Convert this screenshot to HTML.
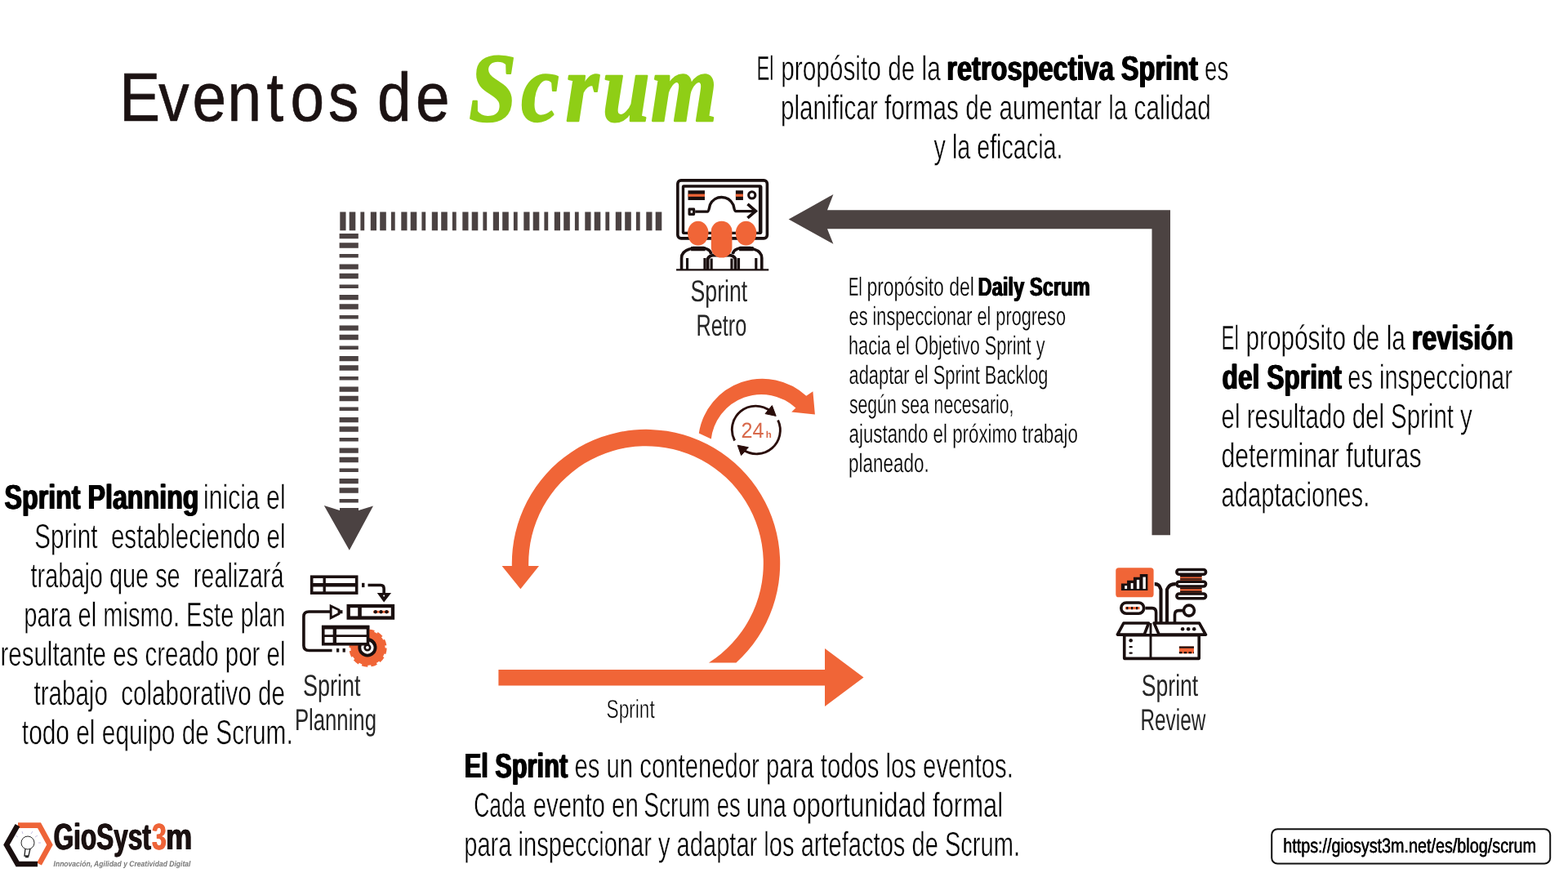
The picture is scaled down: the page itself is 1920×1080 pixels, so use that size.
<!DOCTYPE html>
<html lang="es">
<head>
<meta charset="utf-8">
<title>Eventos de Scrum</title>
<style>
html,body{margin:0;padding:0;background:#fff;}
body{width:1920px;height:1080px;overflow:hidden;position:relative;}
svg{position:absolute;left:0;top:0;display:block;will-change:transform;}
text{text-rendering:geometricPrecision;}
.lbl{filter:blur(0.6px);}
</style>
</head>
<body>
<svg width="1920" height="1080" viewBox="0 0 1920 1080">
<rect width="1920" height="1080" fill="#ffffff"/>
<!-- ===== connector arrows ===== -->
<g id="arrows">
  <!-- dashed elbow (retro -> planning) -->
  <line x1="416.3" y1="270.8" x2="811" y2="270.8" stroke="#4b4242" stroke-width="22.8" stroke-dasharray="7.2 4.2 7.6 6.1 4.8 7.6"/>
  <line x1="427.2" y1="285.9" x2="427.2" y2="617" stroke="#4b4242" stroke-width="23.2" stroke-dasharray="6.3 5 6.5 7.4 4.4 7.9"/>
  <polygon points="396.8,619 416,625 416,622 439,622 439,625 457,619.5 427.8,673.7" fill="#4b4242"/>
  <!-- solid elbow (review -> retro) -->
  <polygon points="965.7,268.6 1020.4,238 1013,257.2 1433,257.2 1433,655.3 1410.5,655.3 1410.5,280.2 1013,280.2 1020.4,298.7" fill="#4c4342"/>
</g>

<!-- ===== sprint loop ===== -->
<g id="sprint" fill="#f06537">
  <path d="M626.83 693 A164.2 164.2 0 1 1 901.45 811.5 L867.9 811.5 A143.8 143.8 0 1 0 647.23 693 Z"/>
  <polygon points="614.6,693 660,693 637.4,721.2"/>
  <polygon points="610.4,820 1010,820 1010,794 1057.5,829.4 1010,865 1010,839.6 610.4,839.6"/>
  <!-- daily scrum arc -->
  <path d="M855.8 530.4 A78.8 78.8 0 0 1 987.3 484.8 L995.4 479.2 L997.9 507.6 L969.2 504.6 L974.4 499.4 A62 62 0 0 0 870.8 537.5 Z"/>
</g>

<!-- ===== 24h badge ===== -->
<g id="badge24" fill="none" stroke="#2a0d0a" stroke-width="2.9" stroke-linecap="butt">
  <path d="M899.6 539.5 A29 29 0 0 1 943.5 503.5"/>
  <path d="M952.6 514.5 A29 29 0 0 1 910 550.8"/>
  <polygon points="945.4,496.6 950.2,509.4 937,506.6" fill="#2a0d0a" stroke-width="1" stroke-linejoin="round"/>
  <polygon points="903.2,545.2 916.4,547.8 907.6,557.6" fill="#2a0d0a" stroke-width="1" stroke-linejoin="round"/>
</g>
<text transform="translate(907.6,535.8) scale(0.95,1)" style='font-family:"Liberation Sans", sans-serif;font-size:26.5px' fill="#d8694b">24</text>
<text transform="translate(937.8,535.8)" style='font-family:"Liberation Sans", sans-serif;font-size:11.5px;font-weight:bold' fill="#d8694b">h</text>

<!-- ===== Sprint Retro icon ===== -->
<g id="ico-retro" transform="translate(810,210) scale(0.12038)" fill="none" stroke="#1a0f0f" stroke-width="30" stroke-linejoin="round">
  <rect x="165" y="90" width="910" height="590" rx="34"/>
  <rect x="220" y="150" width="790" height="476" rx="6" stroke-width="28"/>
  <path d="M1006 150 V626" stroke-width="36"/>
  <rect x="270" y="193" width="170" height="98" fill="#1a0f0f" stroke="none"/>
  <rect x="270" y="229" width="170" height="27" fill="#f06537" stroke="none"/>
  <rect x="755" y="193" width="75" height="98" fill="#1a0f0f" stroke="none"/>
  <rect x="755" y="229" width="75" height="27" fill="#f06537" stroke="none"/>
  <circle cx="920" cy="240" r="34" stroke-width="26"/>
  <rect x="283" y="383" width="46" height="52" stroke-width="26"/>
  <path d="M342 408 H466 C482 408 484 372 494 338 C518 284 568 262 610 262 C652 262 702 284 730 338 C740 372 740 404 756 404 H945" stroke-width="28"/>
  <path d="M876 332 L958 402 L876 472" stroke-linejoin="miter" stroke-width="30"/>
  <!-- bodies -->
  <path d="M204 1000 V880 Q204 815 285 790 L320 778 H430 L465 790 Q500 805 505 840"/>
  <path d="M300 786 H445" stroke-width="44"/>
  <path d="M262 1000 V880 M440 1000 V880" stroke-width="26"/>
  <path d="M1020 1000 V880 Q1020 815 940 790 L905 778 H800 L765 790 Q730 805 725 840"/>
  <path d="M790 786 H935" stroke-width="44"/>
  <path d="M962 1000 V880 M785 1000 V880" stroke-width="26"/>
  <path d="M470 1000 V900 Q470 862 520 852 H700 Q752 862 752 900 V1000" stroke-width="32"/>
  <path d="M508 1000 V885 M714 1000 V885" stroke-width="26"/>
  <path d="M150 1000 H1090" stroke-width="20"/>
  <!-- heads -->
  <ellipse cx="372" cy="628" rx="106" ry="124" fill="#f06537" stroke="none"/>
  <ellipse cx="860" cy="628" rx="106" ry="124" fill="#f06537" stroke="none"/>
  <rect x="505" y="505" width="213" height="372" rx="104" fill="#f06537" stroke="none"/>
</g>

<!-- ===== Sprint Planning icon ===== -->
<g id="ico-plan" transform="translate(350,690) scale(0.12038)" fill="none" stroke="#1a0f0f" stroke-width="30" stroke-linejoin="miter">
  <!-- gear -->
  <circle cx="835" cy="860" r="176" fill="#f06537" stroke="none"/>
  <circle cx="835" cy="860" r="180" stroke="#f06537" stroke-width="24" stroke-dasharray="60 34.25"/>
  <circle cx="830" cy="855" r="80" fill="#fff" stroke-width="32"/>
  <circle cx="830" cy="855" r="27" fill="#fff" stroke-width="22"/>
  <!-- top table -->
  <rect x="263" y="135" width="457" height="165" fill="#fff" stroke-width="30"/>
  <path d="M263 218 H720" stroke-width="36"/>
  <path d="M392 135 V300" stroke-width="28"/>
  <rect x="773" y="198" width="28" height="44" fill="#1a0f0f" stroke="none"/>
  <path d="M835 220 H965 Q998 220 998 255 V305"/>
  <polygon points="940,305 1060,305 998,385" fill="#1a0f0f" stroke-width="12"/>
  <circle cx="998" cy="328" r="9" fill="#fff" stroke="none"/>
  <!-- middle box -->
  <rect x="637" y="432" width="451" height="121" fill="#fff" stroke-width="36"/>
  <path d="M752 432 V553" stroke-width="38"/>
  <rect x="890" y="480" width="160" height="24" fill="#f06537" stroke="none"/>
  <circle cx="912" cy="492" r="18" fill="#1a0f0f" stroke="none"/>
  <circle cx="968" cy="492" r="18" fill="#1a0f0f" stroke="none"/>
  <circle cx="1025" cy="492" r="18" fill="#1a0f0f" stroke="none"/>
  <!-- loop arrow -->
  <path d="M455 490 H235 Q182 490 182 540 V835 Q182 885 235 885 H470" stroke-linejoin="round"/>
  <polygon points="458,432 458,553 540,512 540,472" fill="#fff" stroke-width="24"/>
  <path d="M540 492 H577" stroke-width="34"/>
  <rect x="515" y="864" width="27" height="38" fill="#1a0f0f" stroke="none"/>
  <rect x="578" y="864" width="27" height="38" fill="#1a0f0f" stroke="none"/>
  <!-- bottom table -->
  <rect x="380" y="645" width="455" height="175" fill="#fff" stroke-width="30"/>
  <path d="M365 649 H850" stroke-width="38"/>
  <path d="M380 736 H835" stroke-width="24"/>
  <path d="M497 645 V820" stroke-width="36"/>
  <path d="M830 775 A80 80 0 0 1 905 830" stroke-width="32"/>
</g>

<!-- ===== Sprint Review icon ===== -->
<g id="ico-review" transform="translate(1350,685) scale(0.12038)" fill="none" stroke="#1a0f0f" stroke-width="30" stroke-linejoin="round">
  <rect x="135" y="85" width="385" height="300" rx="30" fill="#f06537" stroke="none"/>
  <polygon points="190,316 190,245 250,245 250,213 315,213 315,180 380,180 380,150 460,150 460,316" fill="#1a0f0f" stroke="none"/>
  <rect x="226" y="267" width="24" height="33" fill="#fff" stroke="none"/>
  <rect x="288" y="241" width="24" height="59" fill="#fff" stroke="none"/>
  <rect x="348" y="207" width="27" height="93" fill="#fff" stroke="none"/>
  <rect x="411" y="179" width="28" height="121" fill="#fff" stroke="none"/>
  <!-- stack -->
  <rect x="790" y="150" width="220" height="200" fill="#f06537" stroke="none"/>
  <path d="M790 172 H1010 M790 200 H1010 M790 296 H1010 M790 326 H1010" stroke-width="12"/>
  <rect x="755" y="104" width="296" height="48" rx="24" fill="#fff"/>
  <rect x="755" y="226" width="296" height="48" rx="24" fill="#fff"/>
  <rect x="755" y="349" width="296" height="48" rx="24" fill="#fff"/>
  <!-- cables -->
  <path d="M530 250 Q575 250 585 285 L594 305 V640" stroke-width="34"/>
  <path d="M745 250 Q685 250 668 285 L656 305 V640" stroke-width="34"/>
  <rect x="190" y="440" width="230" height="110" rx="52" fill="#fff"/>
  <rect x="232" y="482" width="146" height="26" fill="#f06537" stroke="none"/>
  <path d="M252 482 V508 M300 482 V508 M350 482 V508" stroke-width="18"/>
  <path d="M435 495 H505 Q545 495 545 540 V640"/>
  <circle cx="880" cy="520" r="54" fill="#fff"/>
  <path d="M825 520 H775 Q735 520 735 560 V640"/>
  <!-- box -->
  <rect x="222" y="770" width="760" height="238" fill="#fff"/>
  <polygon points="215,648 470,648 425,765 152,765" fill="#fff"/>
  <polygon points="525,648 985,648 1050,765 575,765" fill="#fff"/>
  <path d="M490 648 V1008" stroke-width="24"/>
  <circle cx="815" cy="708" r="19" fill="#1a0f0f" stroke="none"/>
  <circle cx="873" cy="708" r="19" fill="#1a0f0f" stroke="none"/>
  <circle cx="932" cy="708" r="19" fill="#1a0f0f" stroke="none"/>
  <circle cx="288" cy="825" r="19" fill="#1a0f0f" stroke="none"/>
  <rect x="270" y="880" width="36" height="20" rx="9" fill="#1a0f0f" stroke="none"/>
  <rect x="270" y="942" width="36" height="20" rx="9" fill="#1a0f0f" stroke="none"/>
  <rect x="780" y="885" width="150" height="72" fill="#f06537" stroke="none"/>
  <rect x="780" y="885" width="150" height="18" fill="#1a0f0f" stroke="none"/>
  <path d="M780 948 H930" stroke-width="20" stroke-dasharray="30 18"/>
</g>

<!-- ===== logo mark ===== -->
<g id="logo" fill="none" stroke-width="6.6" stroke-linejoin="miter">
  <path d="M22 1010.6 H48 L61 1034.4 L48 1058" stroke="#ee6438"/>
  <path d="M46 1058 H21.5 L8 1034.4 L21.5 1010.6" stroke="#1a0f0f"/>
  <circle cx="34" cy="1032" r="8" stroke="#2a2a2a" stroke-width="1"/>
  <path d="M31 1039 L30 1048 H35 L37 1039 M31 1049.5 H35" stroke="#2a2a2a" stroke-width="1.4"/>
  <path d="M19 1023 l3 2 M27 1018 l1 3 M40 1018 l-2 3 M46 1023 l-3 2 M50 1032 l-3 0" stroke-width="0.8" stroke="#b9b0d8"/>
</g>

<!-- ===== url box ===== -->
<rect x="1557.2" y="1015.2" width="341" height="42.4" rx="7" fill="#fff" stroke="#111" stroke-width="2"/>

<g id="texts">
<text transform="translate(152.00,147.50) scale(0.8900,1)" x="-6.59 47.54 93.85 142.08 196.16 228.79 280.89 322.89 348.45 401.15" style='font-family:"Liberation Sans", sans-serif;font-size:84px;font-weight:normal;font-style:normal;white-space:pre' fill="#1b1212" stroke="#1b1212" stroke-width="0.67" stroke-linejoin="round">Eventos de</text>
<text transform="translate(575.00,148.30) scale(0.8697,1)" x="-0.95 72.71 135.23 187.06 255.38" style='font-family:"Liberation Serif", serif;font-size:120px;font-weight:bold;font-style:italic;white-space:pre' fill="#8fce16" stroke="#8fce16" stroke-width="2.30" stroke-linejoin="round">Scrum</text>
<text transform="translate(926.40,98.00) scale(0.5657,1)" style='font-family:"Liberation Sans", sans-serif;font-size:42px;font-weight:normal;font-style:normal;white-space:pre' fill="#000" stroke="#fff" stroke-width="0.5">El</text>
<text transform="translate(956.18,98.00) scale(0.7100,1)" style='font-family:"Liberation Sans", sans-serif;font-size:42px;font-weight:normal;font-style:normal;white-space:pre' fill="#000" stroke="#fff" stroke-width="0.5">propósito de la</text>
<text transform="translate(1159.33,98.00) scale(0.7750,1)" style='font-family:"Liberation Sans", sans-serif;font-size:42px;font-weight:bold;font-style:normal;white-space:pre;text-shadow:0.97px 0 0 #000,-0.97px 0 0 #000' fill="#000">retrospectiva Sprint</text>
<text transform="translate(1475.07,98.00) scale(0.6559,1)" style='font-family:"Liberation Sans", sans-serif;font-size:42px;font-weight:normal;font-style:normal;white-space:pre' fill="#000" stroke="#fff" stroke-width="0.5">es</text>
<text transform="translate(955.89,146.00) scale(0.7075,1)" style='font-family:"Liberation Sans", sans-serif;font-size:42px;font-weight:normal;font-style:normal;white-space:pre' fill="#000" stroke="#fff" stroke-width="0.5">planificar formas de aumentar la calidad</text>
<text transform="translate(1143.56,194.00) scale(0.6832,1)" style='font-family:"Liberation Sans", sans-serif;font-size:42px;font-weight:normal;font-style:normal;white-space:pre' fill="#000" stroke="#fff" stroke-width="0.5">y la eficacia.</text>
<text transform="translate(1038.98,362.00) scale(0.5817,1)" style='font-family:"Liberation Sans", sans-serif;font-size:32px;font-weight:normal;font-style:normal;white-space:pre' fill="#000" stroke="#fff" stroke-width="0.3">El</text>
<text transform="translate(1061.40,362.00) scale(0.7178,1)" style='font-family:"Liberation Sans", sans-serif;font-size:32px;font-weight:normal;font-style:normal;white-space:pre' fill="#000" stroke="#fff" stroke-width="0.3">propósito del</text>
<text transform="translate(1197.50,362.00) scale(0.7425,1)" style='font-family:"Liberation Sans", sans-serif;font-size:32px;font-weight:bold;font-style:normal;white-space:pre;text-shadow:0.81px 0 0 #000,-0.81px 0 0 #000' fill="#000">Daily Scrum</text>
<text transform="translate(1039.58,398.00) scale(0.6783,1)" style='font-family:"Liberation Sans", sans-serif;font-size:32px;font-weight:normal;font-style:normal;white-space:pre' fill="#000" stroke="#fff" stroke-width="0.3">es inspeccionar el progreso</text>
<text transform="translate(1038.98,434.00) scale(0.6796,1)" style='font-family:"Liberation Sans", sans-serif;font-size:32px;font-weight:normal;font-style:normal;white-space:pre' fill="#000" stroke="#fff" stroke-width="0.3">hacia el Objetivo Sprint y</text>
<text transform="translate(1039.57,470.00) scale(0.6822,1)" style='font-family:"Liberation Sans", sans-serif;font-size:32px;font-weight:normal;font-style:normal;white-space:pre' fill="#000" stroke="#fff" stroke-width="0.3">adaptar el Sprint Backlog</text>
<text transform="translate(1039.92,506.00) scale(0.6623,1)" style='font-family:"Liberation Sans", sans-serif;font-size:32px;font-weight:normal;font-style:normal;white-space:pre' fill="#000" stroke="#fff" stroke-width="0.3">según sea necesario,</text>
<text transform="translate(1039.55,542.00) scale(0.6976,1)" style='font-family:"Liberation Sans", sans-serif;font-size:32px;font-weight:normal;font-style:normal;white-space:pre' fill="#000" stroke="#fff" stroke-width="0.3">ajustando el próximo trabajo</text>
<text transform="translate(1039.04,578.00) scale(0.7014,1)" style='font-family:"Liberation Sans", sans-serif;font-size:32px;font-weight:normal;font-style:normal;white-space:pre' fill="#000" stroke="#fff" stroke-width="0.3">planeado.</text>
<text transform="translate(1495.49,428.00) scale(0.5690,1)" style='font-family:"Liberation Sans", sans-serif;font-size:42px;font-weight:normal;font-style:normal;white-space:pre' fill="#000" stroke="#fff" stroke-width="0.5">El</text>
<text transform="translate(1525.39,428.00) scale(0.7094,1)" style='font-family:"Liberation Sans", sans-serif;font-size:42px;font-weight:normal;font-style:normal;white-space:pre' fill="#000" stroke="#fff" stroke-width="0.5">propósito de la</text>
<text transform="translate(1728.64,428.00) scale(0.7717,1)" style='font-family:"Liberation Sans", sans-serif;font-size:42px;font-weight:bold;font-style:normal;white-space:pre;text-shadow:0.97px 0 0 #000,-0.97px 0 0 #000' fill="#000">revisión</text>
<text transform="translate(1496.48,476.10) scale(0.7562,1)" style='font-family:"Liberation Sans", sans-serif;font-size:42px;font-weight:bold;font-style:normal;white-space:pre;text-shadow:0.99px 0 0 #000,-0.99px 0 0 #000' fill="#000">del Sprint</text>
<text transform="translate(1650.34,476.10) scale(0.6906,1)" style='font-family:"Liberation Sans", sans-serif;font-size:42px;font-weight:normal;font-style:normal;white-space:pre' fill="#000" stroke="#fff" stroke-width="0.5">es inspeccionar</text>
<text transform="translate(1495.58,524.20) scale(0.6999,1)" style='font-family:"Liberation Sans", sans-serif;font-size:42px;font-weight:normal;font-style:normal;white-space:pre' fill="#000" stroke="#fff" stroke-width="0.5">el resultado del Sprint y</text>
<text transform="translate(1495.54,572.30) scale(0.7187,1)" style='font-family:"Liberation Sans", sans-serif;font-size:42px;font-weight:normal;font-style:normal;white-space:pre' fill="#000" stroke="#fff" stroke-width="0.5">determinar futuras</text>
<text transform="translate(1495.59,620.40) scale(0.6947,1)" style='font-family:"Liberation Sans", sans-serif;font-size:42px;font-weight:normal;font-style:normal;white-space:pre' fill="#000" stroke="#fff" stroke-width="0.5">adaptaciones.</text>
<text transform="translate(5.58,622.80) scale(0.7666,1)" style='font-family:"Liberation Sans", sans-serif;font-size:42px;font-weight:bold;font-style:normal;white-space:pre;text-shadow:0.98px 0 0 #000,-0.98px 0 0 #000' fill="#000">Sprint Planning</text>
<text transform="translate(248.98,622.80) scale(0.7184,1)" style='font-family:"Liberation Sans", sans-serif;font-size:42px;font-weight:normal;font-style:normal;white-space:pre' fill="#000" stroke="#fff" stroke-width="0.5">inicia el</text>
<text transform="translate(42.29,670.80) scale(0.7038,1)" style='font-family:"Liberation Sans", sans-serif;font-size:42px;font-weight:normal;font-style:normal;white-space:pre' fill="#000" stroke="#fff" stroke-width="0.5">Sprint  estableciendo el</text>
<text transform="translate(37.59,718.80) scale(0.6878,1)" style='font-family:"Liberation Sans", sans-serif;font-size:42px;font-weight:normal;font-style:normal;white-space:pre' fill="#000" stroke="#fff" stroke-width="0.5">trabajo que se  realizará</text>
<text transform="translate(29.34,766.80) scale(0.6924,1)" style='font-family:"Liberation Sans", sans-serif;font-size:42px;font-weight:normal;font-style:normal;white-space:pre' fill="#000" stroke="#fff" stroke-width="0.5">para el mismo. Este plan</text>
<text transform="translate(0.51,814.80) scale(0.7019,1)" style='font-family:"Liberation Sans", sans-serif;font-size:42px;font-weight:normal;font-style:normal;white-space:pre' fill="#000" stroke="#fff" stroke-width="0.5">resultante es creado por el</text>
<text transform="translate(41.48,862.80) scale(0.7040,1)" style='font-family:"Liberation Sans", sans-serif;font-size:42px;font-weight:normal;font-style:normal;white-space:pre' fill="#000" stroke="#fff" stroke-width="0.5">trabajo  colaborativo de</text>
<text transform="translate(26.87,910.80) scale(0.7108,1)" style='font-family:"Liberation Sans", sans-serif;font-size:42px;font-weight:normal;font-style:normal;white-space:pre' fill="#000" stroke="#fff" stroke-width="0.5">todo el equipo de Scrum.</text>
<text transform="translate(568.67,952.00) scale(0.7326,1)" style='font-family:"Liberation Sans", sans-serif;font-size:42px;font-weight:bold;font-style:normal;white-space:pre;text-shadow:1.02px 0 0 #000,-1.02px 0 0 #000' fill="#000">El Sprint</text>
<text transform="translate(703.48,952.00) scale(0.6974,1)" style='font-family:"Liberation Sans", sans-serif;font-size:42px;font-weight:normal;font-style:normal;white-space:pre' fill="#000" stroke="#fff" stroke-width="0.5">es un contenedor para todos los eventos.</text>
<text transform="translate(580.22,1000.00) scale(0.6314,1)" style='font-family:"Liberation Sans", sans-serif;font-size:42px;font-weight:normal;font-style:normal;white-space:pre' fill="#000" stroke="#fff" stroke-width="0.5">Cada</text>
<text transform="translate(652.68,1000.00) scale(0.7000,1)" style='font-family:"Liberation Sans", sans-serif;font-size:42px;font-weight:normal;font-style:normal;white-space:pre' fill="#000" stroke="#fff" stroke-width="0.5">evento en</text>
<text transform="translate(788.16,1000.00) scale(0.6707,1)" style='font-family:"Liberation Sans", sans-serif;font-size:42px;font-weight:normal;font-style:normal;white-space:pre' fill="#000" stroke="#fff" stroke-width="0.5">Scrum</text>
<text transform="translate(877.67,1000.00) scale(0.6559,1)" style='font-family:"Liberation Sans", sans-serif;font-size:42px;font-weight:normal;font-style:normal;white-space:pre' fill="#000" stroke="#fff" stroke-width="0.5">es</text>
<text transform="translate(913.81,1000.00) scale(0.7024,1)" style='font-family:"Liberation Sans", sans-serif;font-size:42px;font-weight:normal;font-style:normal;white-space:pre' fill="#000" stroke="#fff" stroke-width="0.5">una</text>
<text transform="translate(970.20,1000.00) scale(0.7389,1)" style='font-family:"Liberation Sans", sans-serif;font-size:42px;font-weight:normal;font-style:normal;white-space:pre' fill="#000" stroke="#fff" stroke-width="0.5">oportunidad</text>
<text transform="translate(1141.95,1000.00) scale(0.7392,1)" style='font-family:"Liberation Sans", sans-serif;font-size:42px;font-weight:normal;font-style:normal;white-space:pre' fill="#000" stroke="#fff" stroke-width="0.5">formal</text>
<text transform="translate(568.24,1048.00) scale(0.6927,1)" style='font-family:"Liberation Sans", sans-serif;font-size:42px;font-weight:normal;font-style:normal;white-space:pre' fill="#000" stroke="#fff" stroke-width="0.5">para inspeccionar y adaptar los artefactos de Scrum.</text>
<text transform="translate(742.60,878.80) scale(0.7142,1)" style='font-family:"Liberation Sans", sans-serif;font-size:31.7px;font-weight:normal;font-style:normal;white-space:pre' fill="#000" stroke="#fff" stroke-width="0.5">Sprint</text>
<text transform="translate(1571.17,1044.10) scale(0.7909,1)" style='font-family:"Liberation Sans", sans-serif;font-size:25px;font-weight:normal;font-style:normal;white-space:pre;text-shadow:0.32px 0 0 #0a0a0a,-0.32px 0 0 #0a0a0a' fill="#0a0a0a">https://giosyst3m.net/es/blog/scrum</text>
<text class="lbl" transform="translate(845.50,369.00) scale(0.7211,1)" style='font-family:"Liberation Sans", sans-serif;font-size:37px;font-weight:normal;font-style:normal;white-space:pre' fill="#262626">Sprint</text>
<text class="lbl" transform="translate(852.51,411.00) scale(0.6831,1)" style='font-family:"Liberation Sans", sans-serif;font-size:37px;font-weight:normal;font-style:normal;white-space:pre' fill="#262626">Retro</text>
<text class="lbl" transform="translate(370.99,852.00) scale(0.7285,1)" style='font-family:"Liberation Sans", sans-serif;font-size:37px;font-weight:normal;font-style:normal;white-space:pre' fill="#262626">Sprint</text>
<text class="lbl" transform="translate(360.88,894.20) scale(0.6950,1)" style='font-family:"Liberation Sans", sans-serif;font-size:37px;font-weight:normal;font-style:normal;white-space:pre' fill="#262626">Planning</text>
<text class="lbl" transform="translate(1397.80,852.00) scale(0.7179,1)" style='font-family:"Liberation Sans", sans-serif;font-size:37px;font-weight:normal;font-style:normal;white-space:pre' fill="#262626">Sprint</text>
<text class="lbl" transform="translate(1396.49,894.20) scale(0.6571,1)" style='font-family:"Liberation Sans", sans-serif;font-size:37px;font-weight:normal;font-style:normal;white-space:pre' fill="#262626">Review</text>
<text transform="translate(65.64,1040.10) scale(0.7010,1)" style='font-family:"Liberation Sans", sans-serif;font-size:45px;font-weight:bold;font-style:normal;white-space:pre;text-shadow:0.86px 0 0 #1a1010,-0.86px 0 0 #1a1010' fill="#1a1010">GioSyst</text>
<text transform="translate(186.09,1040.10) scale(0.7013,1)" style='font-family:"Liberation Sans", sans-serif;font-size:45px;font-weight:bold;font-style:normal;white-space:pre;text-shadow:0.86px 0 0 #ee6438,-0.86px 0 0 #ee6438' fill="#ee6438">3</text>
<text transform="translate(203.05,1040.10) scale(0.8044,1)" style='font-family:"Liberation Sans", sans-serif;font-size:45px;font-weight:bold;font-style:normal;white-space:pre;text-shadow:0.75px 0 0 #1a1010,-0.75px 0 0 #1a1010' fill="#1a1010">m</text>
<text class="lbl" transform="translate(65.55,1061.00) scale(0.8727,1)" style='font-family:"Liberation Sans", sans-serif;font-size:9.8px;font-weight:bold;font-style:italic;white-space:pre' fill="#777">Innovación, Agilidad y Creatividad Digital</text>
</g>
</svg>
</body>
</html>
